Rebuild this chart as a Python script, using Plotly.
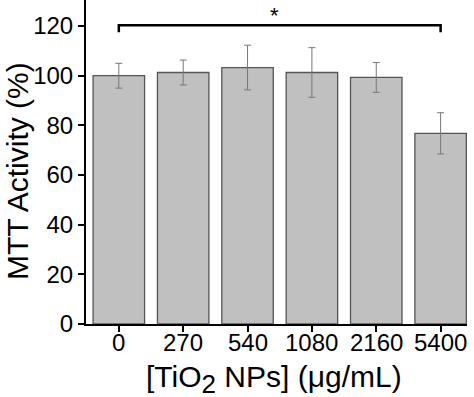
import plotly.graph_objects as go

categories = ["0", "270", "540", "1080", "2160", "5400"]
values = [100, 101.3, 103.3, 101.3, 99.3, 76.8]
errors = [5, 5, 9, 10, 6, 8.3]
bracket_from, bracket_to = "0", "5400"
bracket_y = 120.3
bracket_drop = 2.8
star_y = 124.2
x_title = "[TiO<sub><span style='font-size:26px'>2</span></sub> NPs] (μg/mL)"
y_title = "MTT Activity (%)"

FONT = "Liberation Sans, Arial"

fig = go.Figure()
fig.add_trace(go.Bar(
    x=categories, y=values,
    marker=dict(color="#c0c0c0", line=dict(color="#555555", width=1.3)),
    width=0.8,
    error_y=dict(type="data", array=errors, visible=True, color="#777777", thickness=1, width=3.5),
))

i0 = categories.index(bracket_from)
i1 = categories.index(bracket_to)
fig.add_shape(type="path", xref="x", yref="y",
              path=f"M {i0},{bracket_y - bracket_drop} L {i0},{bracket_y} L {i1},{bracket_y} L {i1},{bracket_y - bracket_drop}",
              line=dict(color="black", width=2.5))
fig.add_annotation(x=(i0 + i1) / 2 - 0.08, y=star_y, text="*", showarrow=False,
                   xref="x", yref="y", font=dict(size=22, color="black", family=FONT))

# x tick labels placed closer to the axis, as in the reference
for i, c in enumerate(categories):
    fig.add_annotation(x=i, y=0, xref="x", yref="paper", text=c, showarrow=False,
                       xanchor="center", yanchor="middle", yshift=-18, borderpad=0,
                       font=dict(size=24, color="black", family=FONT))

# axis titles
fig.add_annotation(text=x_title, xref="paper", yref="paper", x=0.493, y=0,
                   xanchor="center", yanchor="middle", yshift=-55, showarrow=False,
                   borderpad=0, font=dict(size=30, color="black", family=FONT))
fig.add_annotation(text=y_title, xref="paper", yref="paper", x=0, y=0.472,
                   xanchor="center", yanchor="middle", xshift=-69, textangle=-90,
                   borderpad=0, showarrow=False, font=dict(size=30, color="black", family=FONT))

fig.update_layout(
    width=474, height=397,
    margin=dict(l=86, r=7, t=0, b=73),
    paper_bgcolor="white", plot_bgcolor="white",
    showlegend=False,
    font=dict(family=FONT, color="black"),
    xaxis=dict(
        range=[-0.51, 5.41], showline=True, linecolor="black", linewidth=2,
        ticks="outside", ticklen=6, tickwidth=1.5, tickcolor="black",
        showticklabels=False, showgrid=False,
    ),
    yaxis=dict(
        range=[0, 130.5], showline=True, linecolor="black", linewidth=2,
        ticks="outside", ticklen=6, tickwidth=1.5, tickcolor="black",
        tickvals=[0, 20, 40, 60, 80, 100, 120],
        tickfont=dict(size=24), showgrid=False, zeroline=False,
    ),
)

fig.write_html("out.html")
